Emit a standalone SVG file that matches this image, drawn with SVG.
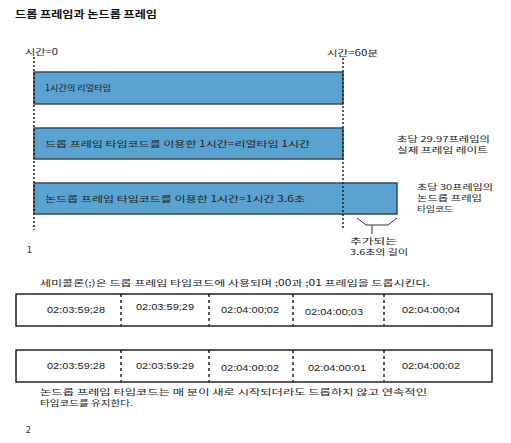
<svg xmlns="http://www.w3.org/2000/svg" width="511" height="443" viewBox="0 0 511 443">
<style>
text{font-family:"Noto Sans CJK KR","Liberation Sans",sans-serif;font-size:8.5px;fill:#222}
.title{font-size:10.5px;font-weight:bold;fill:#111}
.sm{font-size:7.5px}
.bar{fill:#5aa2cf;stroke:#34495e;stroke-width:1.5}
.guide{stroke:#222;stroke-width:1.5;stroke-dasharray:2,2;fill:none}
.cell{fill:#fff;stroke:#222;stroke-width:1.5}
.div{stroke:#222;stroke-width:1.5;stroke-dasharray:3,3}
.tc{text-anchor:middle;font-family:"Liberation Sans",sans-serif;font-size:8.5px}
.br{fill:none;stroke:#333;stroke-width:1}
</style>
<rect width="511" height="443" fill="#fff"/>
<text class="title" x="15" y="18" textLength="142" lengthAdjust="spacingAndGlyphs">드롭 프레임과 논드롭 프레임</text>

<g id="bars">
<g id="bar1"><rect class="bar" x="34" y="72" width="309" height="32"/><text x="45" y="91" textLength="66" lengthAdjust="spacingAndGlyphs">1시간의 리얼타임</text></g>
<g id="bar2"><rect class="bar" x="34" y="128" width="309" height="31"/><text x="45" y="147" textLength="265" lengthAdjust="spacingAndGlyphs">드롭 프레임 타임코드를 이용한 1시간=리얼타임 1시간</text></g>
<g id="bar3"><rect class="bar" x="34" y="183" width="363" height="31"/><text x="45" y="202" textLength="260" lengthAdjust="spacingAndGlyphs">논드롭 프레임 타임코드를 이용한 1시간=1시간 3.6초</text></g>
</g>

<g id="connectors">
<line class="guide" x1="34" y1="57" x2="34" y2="230"/>
<line class="guide" x1="343" y1="58" x2="343" y2="230"/>
<polyline class="br" points="357,218 366,225 388,225 397,218"/>
<line class="br" x1="372" y1="225" x2="372" y2="234"/>
</g>

<g id="labels">
<text x="25" y="55" textLength="33" lengthAdjust="spacingAndGlyphs">시간=0</text>
<text x="327" y="56" textLength="51" lengthAdjust="spacingAndGlyphs">시간=60분</text>
<text class="sm" x="397" y="142" textLength="93" lengthAdjust="spacingAndGlyphs">초당 29.97프레임의</text>
<text class="sm" x="397" y="153" textLength="91" lengthAdjust="spacingAndGlyphs">실제 프레임 레이트</text>
<text class="sm" x="417" y="190" textLength="76" lengthAdjust="spacingAndGlyphs">초당 30프레임의</text>
<text class="sm" x="417" y="201" textLength="65" lengthAdjust="spacingAndGlyphs">논드롭 프레임</text>
<text class="sm" x="417" y="212" textLength="36" lengthAdjust="spacingAndGlyphs">타임코드</text>
<text class="sm" x="350" y="244" textLength="47" lengthAdjust="spacingAndGlyphs">추가되는</text>
<text class="sm" x="350" y="255" textLength="58" lengthAdjust="spacingAndGlyphs">3.6초의 길이</text>
<text x="27" y="253">1</text>
<text x="40" y="286" textLength="390" lengthAdjust="spacingAndGlyphs">세미콜론(;)은 드롭 프레임 타임코드에 사용되며 ;00과 ;01 프레임을 드롭시킨다.</text>
</g>

<g id="table1">
<rect class="cell" x="16" y="294" width="476" height="32"/>
<line class="div" x1="121" y1="294" x2="121" y2="326"/>
<line class="div" x1="209" y1="294" x2="209" y2="326"/>
<line class="div" x1="293" y1="294" x2="293" y2="326"/>
<line class="div" x1="384" y1="294" x2="384" y2="326"/>
<text class="tc" x="76" y="313" textLength="58" lengthAdjust="spacingAndGlyphs">02:03:59;28</text>
<text class="tc" x="165" y="310" textLength="58" lengthAdjust="spacingAndGlyphs">02:03:59;29</text>
<text class="tc" x="250" y="313" textLength="58" lengthAdjust="spacingAndGlyphs">02:04:00;02</text>
<text class="tc" x="334" y="315" textLength="58" lengthAdjust="spacingAndGlyphs">02:04:00;03</text>
<text class="tc" x="431" y="313" textLength="58" lengthAdjust="spacingAndGlyphs">02:04:00;04</text>
</g>

<g id="table2">
<rect class="cell" x="16" y="350" width="476" height="32"/>
<line class="div" x1="121" y1="350" x2="121" y2="382"/>
<line class="div" x1="209" y1="350" x2="209" y2="382"/>
<line class="div" x1="293" y1="350" x2="293" y2="382"/>
<line class="div" x1="384" y1="350" x2="384" y2="382"/>
<text class="tc" x="76" y="369" textLength="58" lengthAdjust="spacingAndGlyphs">02:03:59:28</text>
<text class="tc" x="165" y="369" textLength="58" lengthAdjust="spacingAndGlyphs">02:03:59:29</text>
<text class="tc" x="250" y="371" textLength="58" lengthAdjust="spacingAndGlyphs">02:04:00:02</text>
<text class="tc" x="337" y="371" textLength="58" lengthAdjust="spacingAndGlyphs">02:04:00:01</text>
<text class="tc" x="431" y="369" textLength="58" lengthAdjust="spacingAndGlyphs">02:04:00:02</text>
</g>

<g id="notes">
<text class="sm" x="40" y="395" textLength="387" lengthAdjust="spacingAndGlyphs">논드롭 프레임 타임코드는 매 분이 새로 시작되더라도 드롭하지 않고 연속적인</text>
<text class="sm" x="40" y="406" textLength="93" lengthAdjust="spacingAndGlyphs">타임코드를 유지한다.</text>
<text x="26" y="433">2</text>
</g>
</svg>
